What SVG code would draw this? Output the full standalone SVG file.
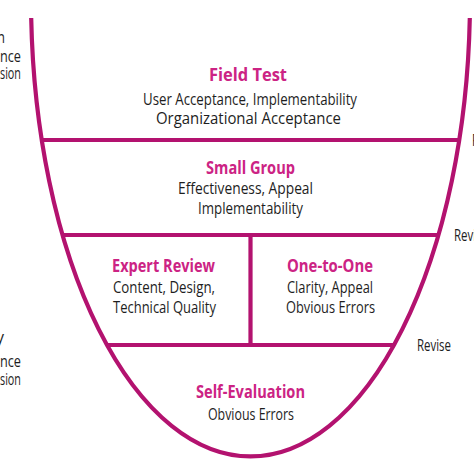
<svg xmlns="http://www.w3.org/2000/svg" width="474" height="474" viewBox="0 0 474 474">
<style>
.ln{fill:none;stroke:#B3126F;stroke-width:4.2;stroke-linecap:butt}
.t{font-family:"Open Sans","Liberation Sans",sans-serif;font-weight:bold;fill:#CC2384;text-anchor:middle;font-size:18px}
.b{font-family:"Open Sans","Liberation Sans",sans-serif;fill:#1e1e1e;text-anchor:middle;font-size:16.5px}
.s{font-family:"Open Sans","Liberation Sans",sans-serif;fill:#1e1e1e;font-size:15.5px}
</style>
<rect width="474" height="474" fill="#fff"/>
<g id="connectors">
<path class="ln" d="M 31.2 18 A 219.5 458 0 0 0 469.8 18"/>
<line class="ln" x1="41.5" y1="140" x2="459.5" y2="140"/>
<line class="ln" x1="62.1" y1="235" x2="438.9" y2="235"/>
<line class="ln" x1="106.1" y1="345" x2="394.9" y2="345"/>
<line class="ln" x1="250.5" y1="235" x2="250.5" y2="345"/>
</g>
<g id="field-test">
<text class="t" x="248" y="81" textLength="78" lengthAdjust="spacingAndGlyphs">Field Test</text>
<text class="b" x="250" y="105" textLength="214" lengthAdjust="spacingAndGlyphs">User Acceptance, Implementability</text>
<text class="b" x="248.5" y="124" textLength="185" lengthAdjust="spacingAndGlyphs">Organizational Acceptance</text>
</g>
<g id="small-group">
<text class="t" x="250.5" y="174" textLength="89" lengthAdjust="spacingAndGlyphs">Small Group</text>
<text class="b" x="245.5" y="194" textLength="135" lengthAdjust="spacingAndGlyphs">Effectiveness, Appeal</text>
<text class="b" x="250.5" y="214" textLength="105" lengthAdjust="spacingAndGlyphs">Implementability</text>
</g>
<g id="expert-review">
<text class="t" x="163.5" y="272" textLength="103" lengthAdjust="spacingAndGlyphs">Expert Review</text>
<text class="b" x="164" y="293" textLength="102" lengthAdjust="spacingAndGlyphs">Content, Design,</text>
<text class="b" x="164.5" y="313" textLength="103" lengthAdjust="spacingAndGlyphs">Technical Quality</text>
</g>
<g id="one-to-one">
<text class="t" x="330" y="272" textLength="86" lengthAdjust="spacingAndGlyphs">One-to-One</text>
<text class="b" x="330" y="293" textLength="86" lengthAdjust="spacingAndGlyphs">Clarity, Appeal</text>
<text class="b" x="330.5" y="313" textLength="89" lengthAdjust="spacingAndGlyphs">Obvious Errors</text>
</g>
<g id="self-evaluation">
<text class="t" x="250.5" y="398" textLength="109" lengthAdjust="spacingAndGlyphs">Self-Evaluation</text>
<text class="b" x="251" y="420" textLength="86" lengthAdjust="spacingAndGlyphs">Obvious Errors</text>
</g>
<g id="side-labels">
<text class="s" x="472" y="146" textLength="34" lengthAdjust="spacingAndGlyphs">Revise</text>
<text class="s" x="454" y="241" textLength="34" lengthAdjust="spacingAndGlyphs">Revise</text>
<text class="s" x="417" y="351" textLength="34" lengthAdjust="spacingAndGlyphs">Revise</text>
<text class="s" x="-3" y="43" textLength="8" lengthAdjust="spacingAndGlyphs">n</text>
<text class="s" x="0" y="62" textLength="21" lengthAdjust="spacingAndGlyphs">nce</text>
<text class="s" x="0" y="79" textLength="21" lengthAdjust="spacingAndGlyphs">sion</text>
<text class="s" x="-4" y="343" textLength="8" lengthAdjust="spacingAndGlyphs">y</text>
<text class="s" x="0" y="367" textLength="21" lengthAdjust="spacingAndGlyphs">nce</text>
<text class="s" x="0" y="385" textLength="21" lengthAdjust="spacingAndGlyphs">sion</text>
</g>
</svg>
